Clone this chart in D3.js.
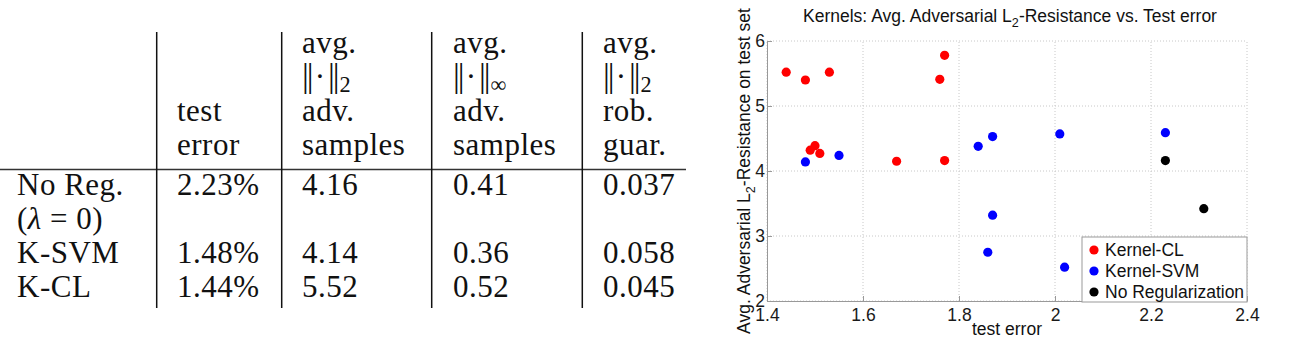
<!DOCTYPE html>
<html>
<head>
<meta charset="utf-8">
<script src="https://cdn.jsdelivr.net/npm/d3@7"></script>
<style>
  body { margin: 0; background: #fff; }
  svg { display: block; }
</style>
</head>
<body>
<div id="chart-container"></div>
<script>
// ---- table data ----
const tableHeader = [
  ["", "", "", ""],
  ["", "", "test", "error"],
  ["avg.", "‖·‖_2", "adv.", "samples"],
  ["avg.", "‖·‖_∞", "adv.", "samples"],
  ["avg.", "‖·‖_2", "rob.", "guar."]
];
const rowLabels = ["No Reg.", "(λ = 0)", "K-SVM", "K-CL"];
const testErrors = ["2.23%", "", "1.48%", "1.44%"];
const advL2 = ["4.16", "", "4.14", "5.52"];
const advLinf = ["0.41", "", "0.36", "0.52"];
const robGuar = ["0.037", "", "0.058", "0.045"];

// ---- scatter data ----
const seriesNames = ["Kernel-CL", "Kernel-SVM", "No Regularization"];
const seriesColors = ["#ff0000", "#0000ff", "#000000"];
const kernelCL = [
  [1.44, 5.52], [1.48, 5.40], [1.53, 5.52], [1.77, 5.78], [1.76, 5.41],
  [1.49, 4.32], [1.50, 4.39], [1.51, 4.27], [1.67, 4.15], [1.77, 4.16]
];
const kernelSVM = [
  [1.48, 4.14], [1.55, 4.24], [1.84, 4.38], [1.87, 4.53], [2.01, 4.57],
  [2.23, 4.59], [1.87, 3.32], [1.86, 2.75], [2.02, 2.52]
];
const noReg = [[2.23, 4.16], [2.31, 3.42]];
const xTicks = [1.4, 1.6, 1.8, 2, 2.2, 2.4];
const yTicks = [2, 3, 4, 5, 6];

const width = 1308;
const height = 346;

const svg = d3.select("#chart-container").append("svg")
    .attr("width", width)
    .attr("height", height)
    .attr("viewBox", [0, 0, width, height]);

// ================= table =================
const serif = "'Liberation Serif', 'DejaVu Serif', serif";
const tableFont = 31;
const colLines = [156.7, 281.7, 431.7, 582.3];
const colText = [17, 177, 302, 453, 603];

const headY = d3.scaleLinear().domain([0, 3]).range([52.5, 154.5]);
const bodyY = d3.scaleLinear().domain([0, 3]).range([195, 297]);

const table = svg.append("g")
    .attr("font-family", serif)
    .attr("font-size", tableFont)
    .attr("letter-spacing", 0.5)
    .attr("fill", "#111");

function cellText(g, str, x, y) {
  const t = g.append("text").attr("x", x).attr("y", y);
  if (str.startsWith("‖·‖_")) {
    // norm symbol: thin double bars, dot, double bars, subscript
    const sub = str.split("_")[1];
    t.attr("letter-spacing", 0);
    t.append("tspan").attr("font-size", 34).attr("letter-spacing", -2).text("||");
    t.append("tspan").attr("dx", 3).text("·");
    t.append("tspan").attr("font-size", 34).attr("dx", 3).attr("letter-spacing", -2).text("||");
    t.append("tspan")
        .attr("font-size", tableFont * 0.72)
        .attr("dx", 2)
        .attr("dy", 5)
        .text(sub);
  } else if (str.includes("λ")) {
    const parts = str.split("λ");
    t.append("tspan").text(parts[0]);
    t.append("tspan").attr("font-style", "italic").text("λ");
    t.append("tspan").text(parts[1]);
  } else {
    t.text(str);
  }
}

tableHeader.forEach((col, c) => {
  col.forEach((s, r) => { if (s) cellText(table, s, colText[c], headY(r)); });
});

const bodyCols = [rowLabels, testErrors, advL2, advLinf, robGuar];
bodyCols.forEach((col, c) => {
  col.forEach((s, r) => { if (s) cellText(table, s, colText[c], bodyY(r)); });
});

table.append("line")
    .attr("x1", 0).attr("x2", 686)
    .attr("y1", 169.5).attr("y2", 169.5)
    .attr("stroke", "#333")
    .attr("stroke-width", 1.7);

table.selectAll("line.vl")
  .data(colLines)
  .enter().append("line")
    .attr("class", "vl")
    .attr("x1", d => d).attr("x2", d => d)
    .attr("y1", 32).attr("y2", 308)
    .attr("stroke", "#111")
    .attr("stroke-width", 1.5);

// ================= scatter =================
const sans = "'Liberation Sans', Arial, Helvetica, sans-serif";
const fs = 17.5;
const x = d3.scaleLinear().domain([1.4, 2.4]).range([767, 1247]);
const y = d3.scaleLinear().domain([2, 6]).range([301, 41]);

const plot = svg.append("g").attr("font-family", sans);

// grid
plot.append("g")
  .selectAll("line")
  .data(xTicks)
  .enter().append("line")
    .attr("x1", d => x(d)).attr("x2", d => x(d))
    .attr("y1", y(2)).attr("y2", y(6))
    .attr("stroke", "#c8c8c8")
    .attr("stroke-dasharray", "1,2");

plot.append("g")
  .selectAll("line")
  .data(yTicks)
  .enter().append("line")
    .attr("x1", x(1.4)).attr("x2", x(2.4))
    .attr("y1", d => y(d)).attr("y2", d => y(d))
    .attr("stroke", "#c8c8c8")
    .attr("stroke-dasharray", "1,2");

// axes
const xAxis = plot.append("g")
    .attr("transform", `translate(0,${y(2)})`)
    .call(d3.axisBottom(x).tickValues(xTicks).tickFormat(d3.format("")).tickSizeInner(-5).tickSizeOuter(0).tickPadding(8));

const yAxis = plot.append("g")
    .attr("transform", `translate(${x(1.4)},0)`)
    .call(d3.axisLeft(y).tickValues(yTicks).tickFormat(d3.format("")).tickSizeInner(-5).tickSizeOuter(0).tickPadding(2));

[xAxis, yAxis].forEach(a => {
  a.attr("font-family", sans).attr("font-size", fs);
  a.select(".domain").attr("stroke", "#999");
  a.selectAll(".tick line").attr("stroke", "#999");
  a.selectAll(".tick text").attr("fill", "#1a1a1a");
});

// points
const allSeries = [kernelCL, kernelSVM, noReg];
allSeries.forEach((pts, i) => {
  plot.append("g")
    .selectAll("circle")
    .data(pts)
    .enter().append("circle")
      .attr("cx", d => x(d[0]))
      .attr("cy", d => y(d[1]))
      .attr("r", 4.6)
      .attr("fill", seriesColors[i]);
});

// title
const title = plot.append("text")
    .attr("x", (x(1.4) + x(2.4)) / 2 + 3)
    .attr("y", 22)
    .attr("text-anchor", "middle")
    .attr("font-size", fs)
    .attr("fill", "#111");
title.append("tspan").text("Kernels: Avg. Adversarial L");
title.append("tspan").attr("font-size", fs * 0.72).attr("dy", 5).text("2");
title.append("tspan").attr("dy", -5).text("-Resistance vs. Test error");

// x label
plot.append("text")
    .attr("x", (x(1.4) + x(2.4)) / 2)
    .attr("y", 335)
    .attr("text-anchor", "middle")
    .attr("font-size", fs)
    .attr("fill", "#111")
    .text("test error");

// y label
const ylab = plot.append("text")
    .attr("transform", `translate(750,${(y(2) + y(6)) / 2}) rotate(-90)`)
    .attr("text-anchor", "middle")
    .attr("font-size", fs)
    .attr("fill", "#111");
ylab.append("tspan").text("Avg. Adversarial L");
ylab.append("tspan").attr("font-size", fs * 0.72).attr("dy", 5).text("2");
ylab.append("tspan").attr("dy", -5).text("-Resistance on test set");

// legend
const legend = plot.append("g");
legend.append("rect")
    .attr("x", 1082).attr("y", 237)
    .attr("width", x(2.4) - 1082).attr("height", 65)
    .attr("fill", "#fff")
    .attr("stroke", "#999");

const legY = d3.scaleLinear().domain([0, 2]).range([250, 292]);
seriesNames.forEach((name, i) => {
  legend.append("circle")
      .attr("cx", 1094).attr("cy", legY(i))
      .attr("r", 4.6)
      .attr("fill", seriesColors[i]);
  legend.append("text")
      .attr("x", 1105).attr("y", legY(i) + 6.3)
      .attr("font-size", fs)
      .attr("fill", "#111")
      .text(name);
});
</script>
</body>
</html>
